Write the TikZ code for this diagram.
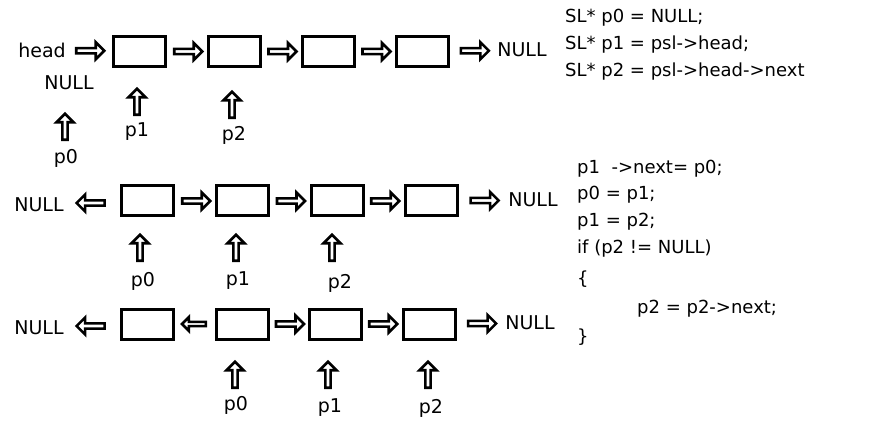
\documentclass[tikz,border=0pt]{standalone}
\usepackage{fontspec}
\setmainfont{DejaVu Sans}
\usetikzlibrary{shapes.arrows}
\begin{document}
\begin{tikzpicture}[x=1pt,y=-1pt,
  cell/.style={draw,line width=3pt,minimum width=52pt,minimum height=30pt,inner sep=0},
  txt/.style={font=\fontsize{19}{22}\selectfont,inner sep=0},
  code/.style={font=\fontsize{18}{22}\selectfont,inner sep=0,anchor=west},
  harr/.style={single arrow,draw,line width=2.6pt,minimum height=28pt,minimum width=17pt,single arrow head extend=3pt,inner sep=0,shape border rotate=#1},
  harr/.default=0,
  varr/.style={single arrow,draw,line width=2.6pt,minimum height=26pt,minimum width=17pt,single arrow head extend=3pt,inner sep=0,shape border rotate=90}]
\useasboundingbox (0,0) rectangle (885,438);
% row 1
\node[cell] (a1) at (139.5,51.5) {};
\node[cell] (a2) at (234.5,51.5) {};
\node[cell] (a3) at (328,51.5) {};
\node[cell] (a4) at (422.5,51.5) {};
\node[txt] (h) at (42,50) {head};
\node[txt] (an) at (522,50) {NULL};
\node[txt] (anl) at (69,83) {NULL};
\path (h.east) -- node[harr]{} (a1.west);
\path (a1) -- node[harr]{} (a2);
\path (a2) -- node[harr]{} (a3);
\path (a3) -- node[harr]{} (a4);
\path (a4.east) -- node[harr]{} (an.west);
\node[txt] (l0) at (66,158) {p0};
\node[txt] (l1) at (137,132) {p1};
\node[txt] (l2) at (234,135) {p2};
\node[varr] at (65,128) {};
\node[varr] at (137,103) {};
\node[varr] at (232,106) {};
\node[code] at (565,18) {SL* p0 = NULL;};
\node[code] at (565,45) {SL* p1 = psl->head;};
\node[code] at (565,72) {SL* p2 = psl->head->next};
% row 2
\node[cell] (b1) at (147.5,201) {};
\node[cell] (b2) at (242.5,201) {};
\node[cell] (b3) at (337,201) {};
\node[cell] (b4) at (431,201) {};
\node[txt] (bl) at (39,205) {NULL};
\node[txt] (br) at (533,200) {NULL};
\path (bl.east) -- node[harr=180]{} (b1.west);
\path (b1) -- node[harr]{} (b2);
\path (b2) -- node[harr]{} (b3);
\path (b3) -- node[harr]{} (b4);
\path (b4.east) -- node[harr]{} (br.west);
\node[txt] at (143,281) {p0};
\node[txt] at (238,281) {p1};
\node[txt] at (340,283) {p2};
\node[varr] at (140,249) {};
\node[varr] at (236,249) {};
\node[varr] at (332,249) {};
\node[code] at (577,169) {p1 \ ->next= p0;};
\node[code] at (577,195) {p0 = p1;};
\node[code] at (577,222) {p1 = p2;};
\node[code] at (577,249) {if (p2 != NULL)};
\node[code] at (577,279) {\{};
\node[code] at (637,309) {p2 = p2->next;};
\node[code] at (577,337) {\}};
% row 3
\node[cell] (c1) at (147.5,324) {};
\node[cell] (c2) at (242.5,324) {};
\node[cell] (c3) at (335,324) {};
\node[cell] (c4) at (429,324) {};
\node[txt] (cl) at (39,328) {NULL};
\node[txt] (cr) at (530,323) {NULL};
\path (cl.east) -- node[harr=180]{} (c1.west);
\path (c1) -- node[harr=180,minimum height=24pt,minimum width=14pt]{} (c2);
\path (c2) -- node[harr]{} (c3);
\path (c3) -- node[harr]{} (c4);
\path (c4.east) -- node[harr]{} (cr.west);
\node[txt] at (236,405) {p0};
\node[txt] at (330,408) {p1};
\node[txt] at (431,408) {p2};
\node[varr] at (235,376) {};
\node[varr] at (328,376) {};
\node[varr] at (428,376) {};
\end{tikzpicture}
\end{document}
